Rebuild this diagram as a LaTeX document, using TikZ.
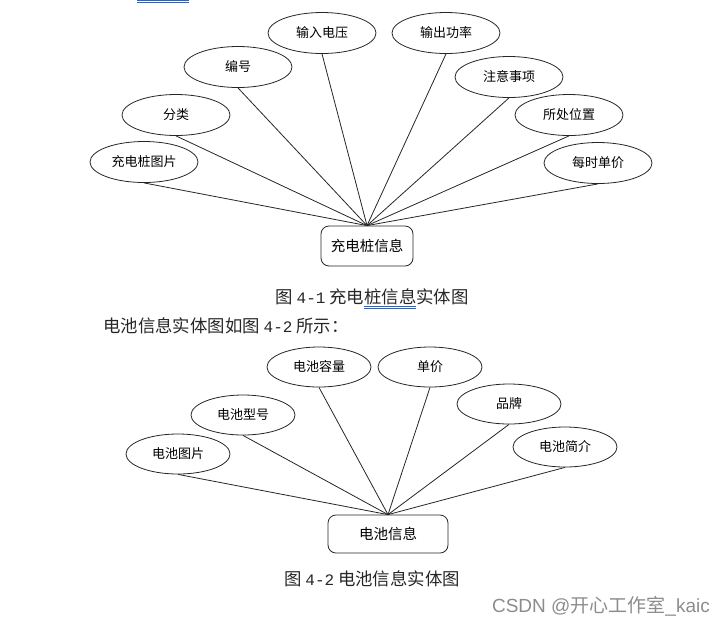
\documentclass[tikz,border=0pt]{standalone}
\usepackage{fontspec}
\setmainfont{Liberation Serif}
\setsansfont{Liberation Sans}
\setmonofont{Liberation Mono}
\newfontfamily\cjk{Noto Sans CJK SC}
\usepackage{xcolor}
\usetikzlibrary{shapes,positioning}
\definecolor{linkblue}{RGB}{30, 100, 230}
\definecolor{markgray}{RGB}{140, 140, 140}
\newcommand{\blueline}[1]{\vtop{\hbox{#1}\kern1.6pt{\color{linkblue}\hrule height 1pt}\kern1pt{\color{linkblue}\hrule height 1pt}}}
\newcommand{\capnum}[1]{{\ttfamily\fontsize{16}{20}\selectfont #1}}
\tikzstyle{attr} = [ellipse, draw=black!85, line width=0.8pt, fill=white, text=black, inner sep=0pt, font=\cjk\fontsize{13}{15}\selectfont, on grid, minimum width=108pt, minimum height=41pt]
\tikzstyle{attr2} = [attr, minimum width=104pt, minimum height=40pt]
\tikzstyle{entity} = [rectangle, rounded corners=8pt, draw=black!85, line width=0.8pt, fill=white, text=black, inner sep=0pt, font=\cjk\fontsize{14.5}{17}\selectfont]
\tikzstyle{caption} = [draw=none, fill=none, inner sep=0pt, on grid, text=black!85, font=\cjk\fontsize{17.4}{20}\selectfont]
\tikzstyle{tedge}  = [draw, line width=0.8pt, black!85]

\begin{document}
\begin{tikzpicture}[x=1pt, y=1pt]
\useasboundingbox (0,0) rectangle (725,-625);

% pile entity =============================
\node[entity, minimum width=92pt, minimum height=40pt] (pile) at (367,-246) {充电桩信息};
\node[attr, above left=213pt and 45pt of pile] (voltage) {输入电压};
\node[attr, above right=213pt and 79pt of pile] (power) {输出功率};
\node[attr, above left=179pt and 129pt of pile] (number) {编号};
\node[attr, above right=169pt and 142pt of pile] (notes) {注意事项};
\node[attr, above left=131pt and 191pt of pile] (kind) {分类};
\node[attr, above right=131pt and 202pt of pile] (place) {所处位置};
\node[attr, above left=84pt and 223pt of pile] (photo) {充电桩图片};
\node[attr, above right=83pt and 231pt of pile] (price) {每时单价};

% battery entity =============================
\node[entity, minimum width=120pt, minimum height=38pt] (bat) at (388,-534) {电池信息};
\node[attr2, above left=167pt and 69pt of bat] (capacity) {电池容量};
\node[attr2, above right=167pt and 42pt of bat] (unit) {单价};
\node[attr2, above left=119pt and 145pt of bat] (model) {电池型号};
\node[attr2, above right=130pt and 121pt of bat] (brand) {品牌};
\node[attr2, above left=80pt and 210pt of bat] (batphoto) {电池图片};
\node[attr2, above right=87pt and 177pt of bat] (intro) {电池简介};

% texts =============================
\node[caption, below right=53pt and 5pt of pile] (cap1) {图 \capnum{4-1} 充电\blueline{桩信息}实体图};
\node[caption, below left=45pt and 16pt of bat] (cap2) {图 \capnum{4-2} 电池信息实体图};
\node[caption, anchor=west] (line) at (103,-326) {电池信息实体图如图 \capnum{4-2} 所示：};
\node[inner sep=0pt, anchor=east, text=markgray, font=\sffamily\fontsize{19}{22}\selectfont] (mark) at (710,-606) {CSDN @{\cjk 开心工作室}\_kaic};

% top underline =============================
\coordinate (ua) at (137,-0.5);
\coordinate (ub) at (189,-0.5);
\coordinate (uc) at (137,-2.5);
\coordinate (ud) at (189,-2.5);
\draw[linkblue, line width=1pt] (ua) -- (ub);
\draw[linkblue, line width=1pt] (uc) -- (ud);

% edges =============================
\path[tedge] (voltage.south) -- (pile.north);
\path[tedge] (power.south) -- (pile.north);
\path[tedge] (number.south) -- (pile.north);
\path[tedge] (notes.south) -- (pile.north);
\path[tedge] (kind.south) -- (pile.north);
\path[tedge] (place.south) -- (pile.north);
\path[tedge] (photo.south) -- (pile.north);
\path[tedge] (price.south) -- (pile.north);
\path[tedge] (capacity.south) -- (bat.north);
\path[tedge] (unit.south) -- (bat.north);
\path[tedge] (model.south) -- (bat.north);
\path[tedge] (brand.south) -- (bat.north);
\path[tedge] (batphoto.south) -- (bat.north);
\path[tedge] (intro.south) -- (bat.north);

\end{tikzpicture}
\end{document}
